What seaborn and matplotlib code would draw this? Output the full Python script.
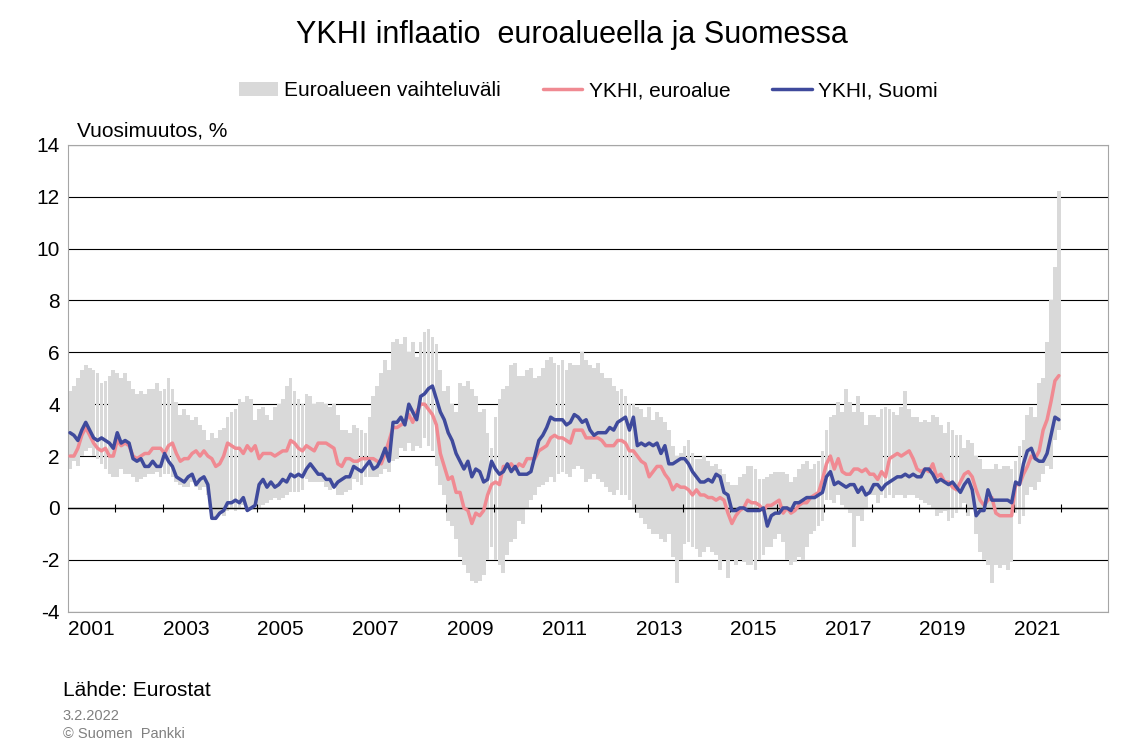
import numpy as np
import pandas as pd
import matplotlib
matplotlib.use("Agg")
import matplotlib.pyplot as plt
import seaborn as sns

# -------- DATA (monthly, Jan 2001 - Dec 2021, % y/y) ----------
euro = [
    2.0, 2.0, 2.3, 2.8, 3.1, 2.8, 2.5, 2.3, 2.2, 2.3, 2.0, 2.0,
    2.6, 2.4, 2.5, 2.4, 2.0, 1.9, 2.0, 2.1, 2.1, 2.3, 2.3, 2.3,
    2.1, 2.4, 2.5, 2.1, 1.8, 1.9, 1.9, 2.1, 2.2, 2.0, 2.2, 2.0,
    1.9, 1.6, 1.7, 2.0, 2.5, 2.4, 2.3, 2.3, 2.1, 2.4, 2.2, 2.4,
    1.9, 2.1, 2.1, 2.1, 2.0, 2.1, 2.2, 2.2, 2.6, 2.5, 2.3, 2.2,
    2.4, 2.3, 2.2, 2.5, 2.5, 2.5, 2.4, 2.3, 1.7, 1.6, 1.9, 1.9,
    1.8, 1.8, 1.9, 1.9, 1.9, 1.9, 1.8, 1.7, 2.1, 2.6, 3.1, 3.1,
    3.2, 3.3, 3.6, 3.3, 3.7, 4.0, 4.0, 3.8, 3.6, 3.2, 2.1, 1.6,
    1.1, 1.2, 0.6, 0.6, 0.0, -0.1, -0.6, -0.2, -0.3, -0.1, 0.5, 0.9,
    1.0, 0.9, 1.6, 1.6, 1.7, 1.5, 1.7, 1.6, 1.9, 1.9, 1.9, 2.2,
    2.3, 2.4, 2.7, 2.8, 2.7, 2.7, 2.6, 2.5, 3.0, 3.0, 3.0, 2.7,
    2.7, 2.7, 2.7, 2.6, 2.4, 2.4, 2.4, 2.6, 2.6, 2.5, 2.2, 2.2,
    2.0, 1.8, 1.7, 1.2, 1.4, 1.6, 1.6, 1.3, 1.1, 0.7, 0.9, 0.8,
    0.8, 0.7, 0.5, 0.7, 0.5, 0.5, 0.4, 0.4, 0.3, 0.4, 0.3, -0.2,
    -0.6, -0.3, -0.1, 0.0, 0.3, 0.2, 0.2, 0.1, -0.1, 0.1, 0.1, 0.2,
    0.3, -0.2, 0.0, -0.2, -0.1, 0.1, 0.2, 0.2, 0.4, 0.5, 0.6, 1.1,
    1.7, 2.0, 1.5, 1.9, 1.4, 1.3, 1.3, 1.5, 1.5, 1.4, 1.5, 1.3,
    1.3, 1.1, 1.4, 1.2, 1.9, 2.0, 2.1, 2.0, 2.1, 2.2, 1.9, 1.5,
    1.4, 1.5, 1.4, 1.7, 1.2, 1.3, 1.0, 1.0, 0.8, 0.7, 1.0, 1.3,
    1.4, 1.2, 0.7, 0.3, 0.1, 0.3, 0.4, -0.2, -0.3, -0.3, -0.3, -0.3,
    0.9, 0.9, 1.3, 1.6, 2.0, 1.9, 2.2, 3.0, 3.4, 4.1, 4.9, 5.1,
]
finland = [
    2.9, 2.8, 2.6, 3.0, 3.3, 3.0, 2.7, 2.6, 2.7, 2.6, 2.5, 2.3,
    2.9, 2.5, 2.6, 2.5, 1.9, 1.8, 1.9, 1.6, 1.6, 1.8, 1.6, 1.6,
    2.1, 1.8, 1.6, 1.2, 1.1, 1.0, 1.2, 1.3, 0.9, 1.1, 1.2, 0.9,
    -0.4, -0.4, -0.2, -0.1, 0.2, 0.2, 0.3, 0.2, 0.4, -0.1, 0.0, 0.1,
    0.9, 1.1, 0.8, 1.0, 0.8, 0.9, 1.1, 1.0, 1.3, 1.2, 1.3, 1.2,
    1.5, 1.7, 1.5, 1.3, 1.3, 1.1, 1.1, 0.8, 1.0, 1.1, 1.2, 1.2,
    1.6, 1.5, 1.4, 1.6, 1.8, 1.5, 1.6, 1.9, 2.3, 1.8, 3.3, 3.3,
    3.5, 3.2, 4.0, 3.7, 3.4, 4.3, 4.4, 4.6, 4.7, 4.2, 3.7, 3.4,
    2.9, 2.6, 2.1, 1.8, 1.5, 1.8, 1.2, 1.5, 1.4, 1.0, 1.1, 1.8,
    1.5, 1.3, 1.4, 1.7, 1.4, 1.6, 1.3, 1.3, 1.3, 1.4, 2.0, 2.6,
    2.8, 3.1, 3.5, 3.4, 3.4, 3.4, 3.2, 3.3, 3.6, 3.5, 3.3, 3.4,
    3.0, 2.8, 2.9, 2.9, 2.9, 3.1, 3.0, 3.3, 3.4, 3.5, 3.0, 3.5,
    2.4, 2.5, 2.4, 2.5, 2.4, 2.5, 2.1, 2.4, 1.7, 1.7, 1.8, 1.9,
    1.9, 1.7, 1.4, 1.2, 1.0, 1.0, 1.1, 1.0, 1.3, 1.2, 0.6, 0.5,
    -0.1, -0.1, 0.0, 0.0, -0.1, -0.1, -0.1, -0.1, 0.0, -0.7, -0.3, -0.2,
    -0.2, 0.0, 0.0, -0.1, 0.2, 0.2, 0.3, 0.4, 0.4, 0.4, 0.5, 0.6,
    1.2, 1.4, 0.9, 1.0, 0.9, 0.8, 0.9, 0.9, 0.6, 0.8, 0.5, 0.6,
    0.9, 0.9, 0.7, 0.9, 1.0, 1.1, 1.2, 1.2, 1.3, 1.2, 1.3, 1.2,
    1.2, 1.5, 1.5, 1.3, 1.0, 1.1, 1.0, 0.9, 1.0, 0.8, 0.6, 0.9,
    1.1, 0.7, -0.3, -0.1, -0.1, 0.7, 0.3, 0.3, 0.3, 0.3, 0.3, 0.2,
    1.0, 0.9, 1.7, 2.2, 2.3, 1.9, 1.8, 1.8, 2.1, 2.8, 3.5, 3.4,
]
range_max = [
    4.5, 4.7, 5.0, 5.3, 5.5, 5.4, 5.3, 5.2, 4.8, 4.9, 5.1, 5.3,
    5.2, 5.0, 5.2, 4.9, 4.6, 4.4, 4.5, 4.4, 4.6, 4.6, 4.8, 4.5,
    4.6, 5.0, 4.6, 4.1, 3.6, 3.8, 3.6, 3.4, 3.5, 3.2, 3.0, 2.6,
    2.9, 2.7, 3.0, 3.1, 3.5, 3.7, 3.8, 4.2, 4.1, 4.3, 4.2, 3.4,
    3.8, 3.9, 3.6, 3.4, 3.9, 4.0, 4.2, 4.7, 5.0, 4.5, 4.2, 4.0,
    4.4, 4.3, 4.0, 4.1, 4.1, 4.0, 3.9, 4.0, 3.6, 3.0, 3.0, 2.9,
    3.2, 3.1, 3.0, 2.9, 3.5, 4.3, 4.7, 5.2, 5.7, 5.3, 6.4, 6.5,
    6.3, 6.6, 6.0, 6.4, 5.8, 6.4, 6.8, 6.9, 6.6, 6.3, 5.3, 4.5,
    4.7, 4.0, 3.7, 4.8, 4.7, 4.9, 4.6, 4.3, 3.7, 3.8, 2.9, 2.3,
    3.5, 4.2, 4.6, 4.7, 5.5, 5.6, 5.1, 5.1, 5.3, 5.4, 5.0, 5.1,
    5.4, 5.7, 5.8, 5.6, 5.5, 5.7, 5.3, 5.6, 5.5, 5.5, 6.0, 5.7,
    5.5, 5.4, 5.6, 5.2, 5.0, 5.0, 4.7, 4.5, 4.6, 4.3, 4.0, 4.0,
    3.9, 3.8, 3.5, 3.9, 3.4, 3.7, 3.5, 3.3, 3.0, 2.4, 2.0, 2.1,
    2.4, 2.6, 2.1, 1.9, 1.9, 2.0, 1.8, 1.6, 1.7, 1.5, 1.3, 1.0,
    0.9, 0.9, 1.2, 1.3, 1.6, 1.6, 1.5, 1.1, 1.1, 1.2, 1.3, 1.4,
    1.4, 1.4, 1.3, 1.0, 1.2, 1.5, 1.7, 1.8, 1.5, 1.7, 1.8, 2.2,
    3.0, 3.5, 3.6, 4.1, 3.7, 4.6, 4.1, 3.7, 4.3, 3.7, 3.2, 3.6,
    3.6, 3.5, 3.8, 3.9, 3.8, 3.7, 3.6, 3.9, 4.5, 3.8, 3.5, 3.5,
    3.3, 3.4, 3.3, 3.6, 3.5, 3.2, 2.9, 3.3, 3.0, 2.8, 2.8, 2.3,
    2.6, 2.5, 2.0, 1.9, 1.5, 1.5, 1.5, 1.7, 1.5, 1.6, 1.6, 1.5,
    1.8, 2.4, 2.6, 3.6, 3.9, 3.5, 4.8, 5.0, 6.4, 8.0, 9.3, 12.2,
]
range_min = [
    1.5, 1.8, 1.6, 2.0, 2.2, 2.3, 2.0, 1.9, 1.7, 1.5, 1.3, 1.2,
    1.2, 1.5, 1.3, 1.3, 1.2, 1.0, 1.1, 1.2, 1.3, 1.3, 1.4, 1.2,
    1.3, 1.3, 1.2, 1.0, 0.9, 0.8, 0.8, 1.0, 0.8, 0.7, 0.8, 0.5,
    -0.4, -0.4, -0.2, -0.3, -0.1, 0.0, -0.1, 0.0, 0.1, -0.1, 0.0, 0.1,
    0.0, 0.1, 0.2, 0.3, 0.4, 0.3, 0.4, 0.5, 0.6, 0.6, 0.6, 0.7,
    1.1, 1.0, 1.0, 1.0, 1.0, 0.8, 0.7, 0.8, 0.5, 0.5, 0.6, 0.7,
    1.1, 1.0, 0.9, 1.2, 1.2, 1.2, 1.2, 1.3, 1.5, 1.4, 1.8, 1.9,
    2.3, 2.2, 2.5, 2.2, 2.4, 2.3, 2.7, 2.4, 2.2, 1.6, 0.9, 0.5,
    -0.5, -0.7, -1.2, -1.9, -2.2, -2.5, -2.8, -2.9, -2.8, -2.6, -2.0, -1.5,
    -2.0, -2.2, -2.5, -1.8, -1.3, -1.2, -0.5, -0.6, 0.0, 0.3, 0.5, 0.8,
    0.9, 1.0, 1.2, 1.0, 1.3, 1.4, 1.3, 1.2, 1.5, 1.6, 1.5, 1.0,
    1.1, 1.3, 1.1, 1.0, 0.8, 0.6, 0.5, 0.7, 0.5, 0.5, 0.3, 0.0,
    -0.2, -0.4, -0.6, -0.8, -1.0, -1.0, -1.2, -1.3, -1.0, -1.9, -2.9, -2.0,
    -1.4, -1.3, -1.5, -1.6, -1.9, -1.7, -1.5, -1.7, -1.8, -2.4, -2.0, -2.7,
    -2.0, -2.2, -2.0, -2.1, -2.2, -2.2, -2.4, -2.0, -1.8, -1.5, -1.5, -1.2,
    -1.0, -1.3, -2.0, -2.2, -2.1, -1.9, -2.0, -1.5, -1.0, -0.9, -0.7, -0.5,
    0.3, 0.3, 0.2, 0.5, 0.1, 0.0, -0.2, -1.5, -0.3, -0.5, 0.0, 0.5,
    0.5, 0.2, 0.5, 0.4, 0.5, 0.4, 0.5, 0.5, 0.4, 0.5, 0.5, 0.4,
    0.3, 0.2, 0.1, 0.0, -0.3, -0.2, -0.1, -0.5, -0.4, -0.2, 0.0, 0.2,
    -0.3, 0.0, -1.0, -1.7, -2.0, -2.2, -2.9, -2.2, -2.3, -2.2, -2.4, -2.1,
    -0.2, -0.6, -0.3, 0.5, 0.8, 0.7, 1.0, 1.3, 1.6, 1.5, 2.6, 3.0,
]
year_labels = [str(y) for y in range(2001, 2023, 2)]

# -------- FRAME ----------
t = 2001 + np.arange(len(euro)) / 12 + 1 / 24
df = pd.DataFrame({"t": t, "euro": euro, "fi": finland,
                   "lo": range_min, "hi": range_max})

sns.set_theme(style="white")
plt.rcParams["font.family"] = ["Liberation Sans", "DejaVu Sans"]
plt.rcParams["text.color"] = "black"
plt.rcParams["xtick.color"] = "black"
plt.rcParams["ytick.color"] = "black"

fig = plt.figure(figsize=(11.43, 7.46), dpi=100)
ax = fig.add_axes([0.0595, 0.180, 0.910, 0.626])

GRAY = "#D9D9D9"
PINK = "#F08A92"
NAVY = "#3F4A9C"

ax.bar(df["t"], df["hi"] - df["lo"], bottom=df["lo"], width=1 / 12 * 0.95,
       color=GRAY, linewidth=0, label="Euroalueen vaihteluväli", zorder=2)
sns.lineplot(data=df, x="t", y="euro", ax=ax, color=PINK, lw=2.5,
             label="YKHI, euroalue", zorder=4)
sns.lineplot(data=df, x="t", y="fi", ax=ax, color=NAVY, lw=2.5,
             label="YKHI, Suomi", zorder=5)

ax.set_xlim(2001, 2023)
ax.set_ylim(-4, 14)
ax.set_yticks(range(-4, 15, 2))
ax.set_yticklabels([str(v) for v in range(-4, 15, 2)], fontsize=15)
ax.yaxis.grid(True, color="black", lw=0.8, zorder=1)
ax.set_axisbelow(True)
ax.axhline(0, color="black", lw=1, zorder=3)
ax.vlines(np.arange(2002, 2023), -0.15, 0.15, color="black", lw=0.8, zorder=3)
ax.set_xticks([int(y) + 0.5 for y in year_labels])
ax.set_xticklabels(year_labels, fontsize=15)
ax.tick_params(axis="both", length=0, pad=6)
ax.set_xlabel("")
ax.set_ylabel("")
for s in ax.spines.values():
    s.set_color("#A6A6A6")
    s.set_linewidth(0.8)

handles, labels = ax.get_legend_handles_labels()
order = [labels.index("Euroalueen vaihteluväli"), labels.index("YKHI, euroalue"),
         labels.index("YKHI, Suomi")]
ax.legend([handles[i] for i in order], [labels[i] for i in order],
          loc="lower center", bbox_to_anchor=(0.5, 1.055), ncol=3, frameon=False,
          fontsize=15, handlelength=1.9, columnspacing=2.0, handletextpad=0.3)

fig.text(0.5, 0.953, "YKHI inflaatio  euroalueella ja Suomessa", ha="center",
         va="center", fontsize=22)
fig.text(0.067, 0.825, "Vuosimuutos, %", fontsize=15, va="center")
fig.text(0.055, 0.075, "Lähde: Eurostat", fontsize=15, va="center")
fig.text(0.055, 0.040, "3.2.2022", fontsize=10.5, color="#808080", va="center")
fig.text(0.055, 0.016, "© Suomen  Pankki", fontsize=10.5, color="#808080", va="center")

fig.savefig("out.png", dpi=100)
